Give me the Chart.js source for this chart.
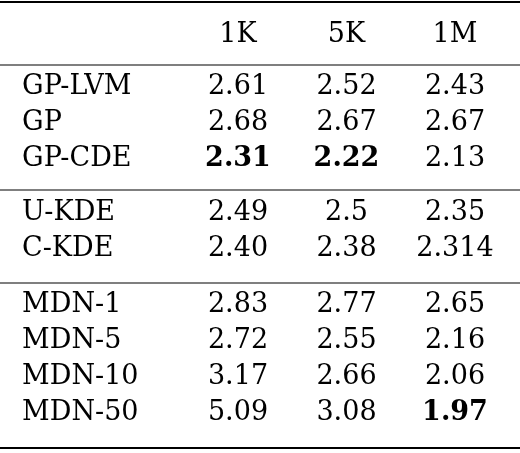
<!DOCTYPE html>
<html><head><meta charset="utf-8">
<script src="https://cdn.jsdelivr.net/npm/chart.js@4"></script>
<style>html,body{margin:0;padding:0;background:#fff}</style>
</head><body>
<canvas id="c" width="520" height="453"></canvas>
<script>
const columns = ["1K", "5K", "1M"];
const rowLabels = ["GP-LVM","GP","GP-CDE","U-KDE","C-KDE","MDN-1","MDN-5","MDN-10","MDN-50"];
const col1K = ["2.61","2.68","2.31","2.49","2.40","2.83","2.72","3.17","5.09"];
const col5K = ["2.52","2.67","2.22","2.5","2.38","2.77","2.55","2.66","3.08"];
const col1M = ["2.43","2.67","2.13","2.35","2.314","2.65","2.16","2.06","1.97"];
const boldCells = [[2,0],[2,1],[8,2]];
const rowPos = [1.44,2.44,3.44,4.94,5.94,7.5,8.5,9.5,10.5];
const rulePos = [-0.92,0.83,4.3,6.9,11.47];
const ruleWidth = [2,1.2,1.2,1.2,2];

const tablePlugin = {
  id:'table',
  afterDraw(chart){
    const ctx = chart.ctx, x = chart.scales.x, y = chart.scales.y;
    ctx.save();
    ctx.fillStyle='#000'; ctx.strokeStyle='#000';
    rulePos.forEach((p,i)=>{
      const py = Math.round(y.getPixelForValue(p));
      ctx.lineWidth = ruleWidth[i];
      ctx.beginPath(); ctx.moveTo(chart.chartArea.left, py); ctx.lineTo(chart.chartArea.right, py); ctx.stroke();
    });
    ctx.textBaseline='middle';
    const font = (b)=> (b?'bold ':'')+'27px "DejaVu Serif", "Liberation Serif", serif';
    ctx.font = font(false); ctx.textAlign='center';
    columns.forEach((c,j)=>ctx.fillText(c, x.getPixelForValue(j+1), y.getPixelForValue(0)));
    const cols = [col1K,col5K,col1M];
    rowLabels.forEach((lab,i)=>{
      const py = y.getPixelForValue(rowPos[i]);
      ctx.font = font(false); ctx.textAlign='left';
      ctx.fillText(lab, x.getPixelForValue(-0.99), py);
      ctx.textAlign='center';
      cols.forEach((col,j)=>{
        const b = boldCells.some(([r,c])=>r===i&&c===j);
        ctx.font = font(b);
        ctx.fillText(col[i], x.getPixelForValue(j+1), py);
      });
    });
    ctx.restore();
  }
};

new Chart(document.getElementById('c'), {
  type:'scatter',
  data:{datasets:[{data:[], pointRadius:0}]},
  options:{
    responsive:false, animation:false,
    layout:{padding:0},
    plugins:{legend:{display:false}, tooltip:{enabled:false}},
    scales:{
      x:{type:'linear', display:false, min:1-238/108.5, max:1+(520-238)/108.5},
      y:{type:'linear', display:false, reverse:true, min:-35/36, max:(453-35)/36}
    }
  },
  plugins:[tablePlugin]
});
</script>
</body></html>
